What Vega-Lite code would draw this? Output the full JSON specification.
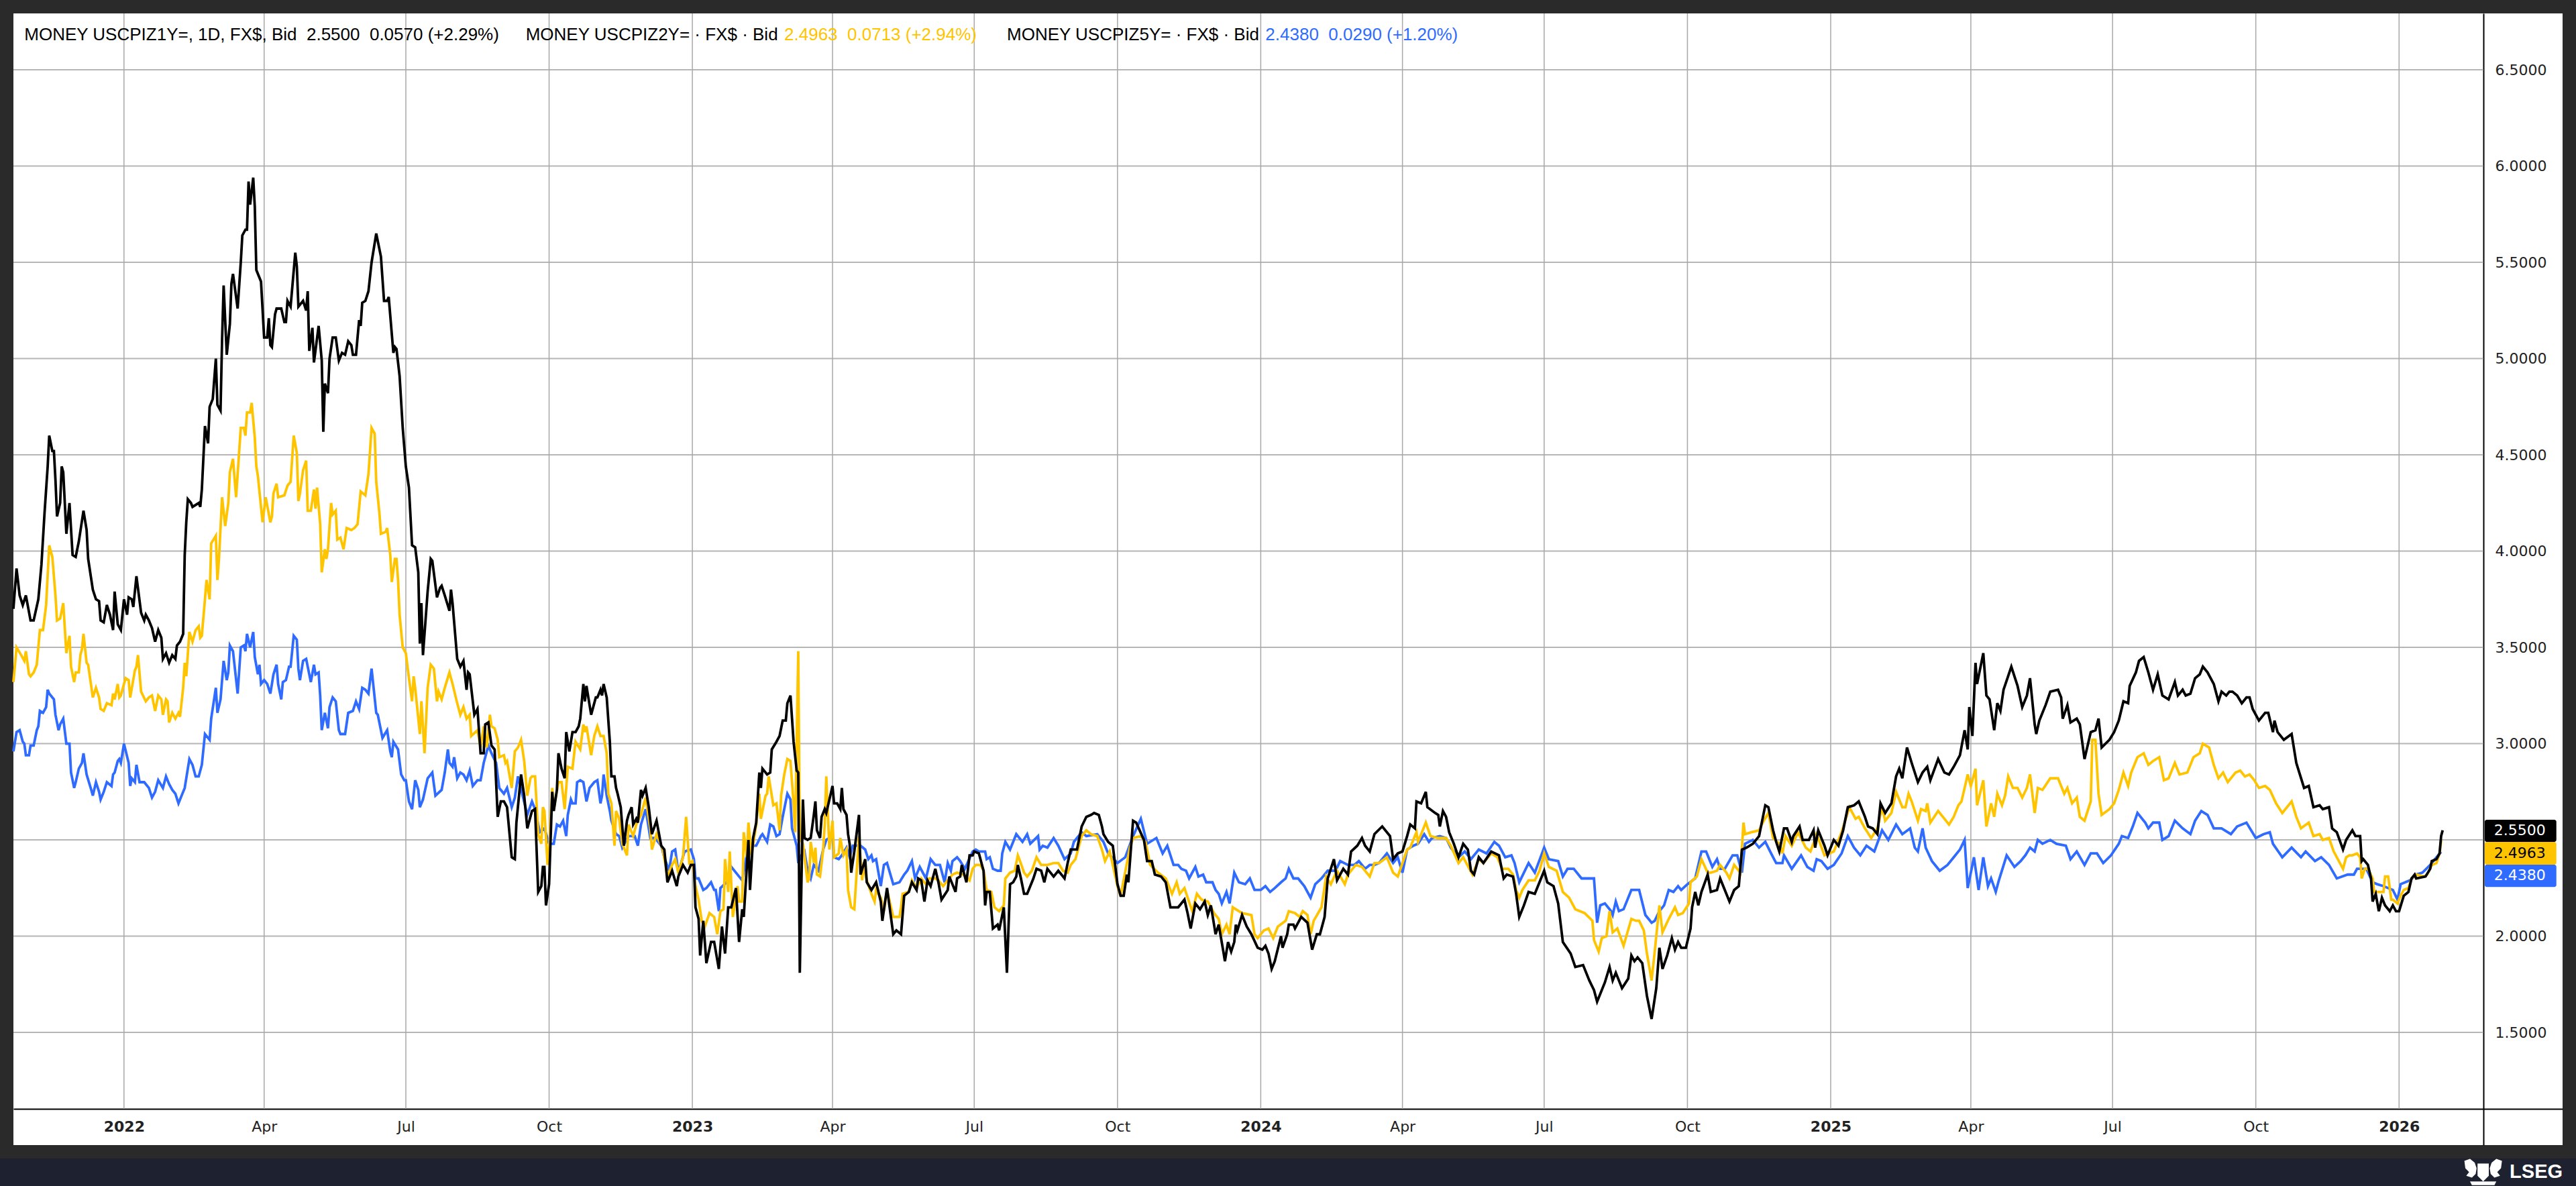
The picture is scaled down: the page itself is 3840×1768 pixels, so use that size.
{
"$schema":"https://vega.github.io/schema/vega-lite/v6.json",
"width":3800,"height":1687,
"autosize":"none",
"padding":{"left":20,"top":20,"right":20,"bottom":61},
"background":"#2a2a2a",
"view":{"fill":"#ffffff","stroke":null},
"datasets":{
"levels":[{"level":1.5},{"level":2},{"level":2.5},{"level":3},{"level":3.5},{"level":4},{"level":4.5},{"level":5},{"level":5.5},{"level":6},{"level":6.5}],
"months":[{"t":"2022-01-01"},{"t":"2022-04-01"},{"t":"2022-07-01"},{"t":"2022-10-01"},{"t":"2023-01-01"},{"t":"2023-04-01"},{"t":"2023-07-01"},{"t":"2023-10-01"},{"t":"2024-01-01"},{"t":"2024-04-01"},{"t":"2024-07-01"},{"t":"2024-10-01"},{"t":"2025-01-01"},{"t":"2025-04-01"},{"t":"2025-07-01"},{"t":"2025-10-01"},{"t":"2026-01-01"}],
"header":[
{"t":"2021-10-29","series":"name","text":"MONEY USCPIZ1Y=, 1D, FX$, Bid \u00a02.5500 \u00a00.0570 (+2.29%)"},
{"t":"2022-09-16","series":"name","text":"MONEY USCPIZ2Y= · FX$ · Bid"},
{"t":"2023-03-01","series":"2Y","text":"2.4963 \u00a00.0713 (+2.94%)"},
{"t":"2023-07-22","series":"name","text":"MONEY USCPIZ5Y= · FX$ · Bid"},
{"t":"2024-01-04","series":"5Y","text":"2.4380 \u00a00.0290 (+1.20%)"}],
"tags":[
{"series":"1Y","label":"2.5500","hi":2.605,"lo":2.49,"mid":2.548},
{"series":"2Y","label":"2.4963","hi":2.49,"lo":2.371,"mid":2.431},
{"series":"5Y","label":"2.4380","hi":2.371,"lo":2.256,"mid":2.314}],
"y5":[{"t":"2021-10-22","v":2.96},{"t":"2021-10-24","v":3.06},{"t":"2021-10-26","v":3.07},{"t":"2021-10-28","v":3.01},{"t":"2021-10-29","v":3.0},{"t":"2021-10-30","v":2.94},{"t":"2021-11-01","v":2.94},{"t":"2021-11-02","v":2.99},{"t":"2021-11-04","v":2.99},{"t":"2021-11-06","v":3.07},{"t":"2021-11-07","v":3.09},{"t":"2021-11-08","v":3.17},{"t":"2021-11-10","v":3.16},{"t":"2021-11-12","v":3.19},{"t":"2021-11-13","v":3.28},{"t":"2021-11-14","v":3.26},{"t":"2021-11-17","v":3.23},{"t":"2021-11-18","v":3.15},{"t":"2021-11-20","v":3.07},{"t":"2021-11-21","v":3.10},{"t":"2021-11-23","v":3.13},{"t":"2021-11-25","v":3.0},{"t":"2021-11-27","v":3.0},{"t":"2021-11-28","v":2.85},{"t":"2021-11-30","v":2.77},{"t":"2021-12-01","v":2.80},{"t":"2021-12-03","v":2.87},{"t":"2021-12-05","v":2.90},{"t":"2021-12-06","v":2.95},{"t":"2021-12-08","v":2.84},{"t":"2021-12-11","v":2.76},{"t":"2021-12-12","v":2.73},{"t":"2021-12-14","v":2.80},{"t":"2021-12-16","v":2.75},{"t":"2021-12-17","v":2.71},{"t":"2021-12-19","v":2.75},{"t":"2021-12-21","v":2.80},{"t":"2021-12-24","v":2.78},{"t":"2021-12-25","v":2.84},{"t":"2021-12-26","v":2.85},{"t":"2021-12-28","v":2.91},{"t":"2021-12-29","v":2.92},{"t":"2021-12-30","v":2.90},{"t":"2022-01-01","v":3.0},{"t":"2022-01-04","v":2.90},{"t":"2022-01-05","v":2.78},{"t":"2022-01-06","v":2.82},{"t":"2022-01-08","v":2.80},{"t":"2022-01-09","v":2.89},{"t":"2022-01-11","v":2.80},{"t":"2022-01-14","v":2.80},{"t":"2022-01-17","v":2.77},{"t":"2022-01-19","v":2.72},{"t":"2022-01-21","v":2.75},{"t":"2022-01-23","v":2.81},{"t":"2022-01-26","v":2.77},{"t":"2022-01-28","v":2.83},{"t":"2022-01-30","v":2.79},{"t":"2022-02-01","v":2.76},{"t":"2022-02-03","v":2.74},{"t":"2022-02-05","v":2.69},{"t":"2022-02-07","v":2.73},{"t":"2022-02-09","v":2.77},{"t":"2022-02-11","v":2.87},{"t":"2022-02-12","v":2.92},{"t":"2022-02-14","v":2.89},{"t":"2022-02-16","v":2.83},{"t":"2022-02-18","v":2.83},{"t":"2022-02-20","v":2.89},{"t":"2022-02-22","v":3.05},{"t":"2022-02-25","v":3.02},{"t":"2022-02-26","v":3.13},{"t":"2022-03-01","v":3.29},{"t":"2022-03-02","v":3.16},{"t":"2022-03-04","v":3.23},{"t":"2022-03-06","v":3.43},{"t":"2022-03-08","v":3.33},{"t":"2022-03-09","v":3.37},{"t":"2022-03-10","v":3.51},{"t":"2022-03-12","v":3.48},{"t":"2022-03-15","v":3.26},{"t":"2022-03-17","v":3.50},{"t":"2022-03-19","v":3.51},{"t":"2022-03-20","v":3.48},{"t":"2022-03-21","v":3.57},{"t":"2022-03-23","v":3.50},{"t":"2022-03-25","v":3.58},{"t":"2022-03-26","v":3.45},{"t":"2022-03-28","v":3.36},{"t":"2022-03-29","v":3.41},{"t":"2022-03-30","v":3.31},{"t":"2022-04-01","v":3.33},{"t":"2022-04-03","v":3.31},{"t":"2022-04-05","v":3.26},{"t":"2022-04-07","v":3.36},{"t":"2022-04-09","v":3.41},{"t":"2022-04-10","v":3.31},{"t":"2022-04-12","v":3.23},{"t":"2022-04-13","v":3.32},{"t":"2022-04-15","v":3.33},{"t":"2022-04-17","v":3.40},{"t":"2022-04-18","v":3.40},{"t":"2022-04-20","v":3.56},{"t":"2022-04-22","v":3.54},{"t":"2022-04-23","v":3.39},{"t":"2022-04-24","v":3.33},{"t":"2022-04-26","v":3.43},{"t":"2022-04-28","v":3.44},{"t":"2022-05-01","v":3.32},{"t":"2022-05-03","v":3.41},{"t":"2022-05-04","v":3.36},{"t":"2022-05-06","v":3.37},{"t":"2022-05-07","v":3.25},{"t":"2022-05-08","v":3.07},{"t":"2022-05-10","v":3.16},{"t":"2022-05-12","v":3.08},{"t":"2022-05-13","v":3.19},{"t":"2022-05-15","v":3.24},{"t":"2022-05-17","v":3.22},{"t":"2022-05-19","v":3.07},{"t":"2022-05-20","v":3.05},{"t":"2022-05-23","v":3.05},{"t":"2022-05-25","v":3.16},{"t":"2022-05-28","v":3.17},{"t":"2022-05-30","v":3.22},{"t":"2022-06-01","v":3.18},{"t":"2022-06-03","v":3.29},{"t":"2022-06-05","v":3.28},{"t":"2022-06-07","v":3.26},{"t":"2022-06-09","v":3.39},{"t":"2022-06-12","v":3.16},{"t":"2022-06-13","v":3.15},{"t":"2022-06-16","v":3.03},{"t":"2022-06-19","v":3.07},{"t":"2022-06-21","v":2.96},{"t":"2022-06-22","v":2.93},{"t":"2022-06-23","v":3.01},{"t":"2022-06-26","v":2.97},{"t":"2022-06-28","v":2.84},{"t":"2022-06-30","v":2.81},{"t":"2022-07-01","v":2.81},{"t":"2022-07-03","v":2.70},{"t":"2022-07-05","v":2.66},{"t":"2022-07-07","v":2.81},{"t":"2022-07-09","v":2.76},{"t":"2022-07-10","v":2.67},{"t":"2022-07-12","v":2.71},{"t":"2022-07-15","v":2.82},{"t":"2022-07-18","v":2.85},{"t":"2022-07-20","v":2.73},{"t":"2022-07-24","v":2.76},{"t":"2022-07-26","v":2.85},{"t":"2022-07-28","v":2.97},{"t":"2022-07-29","v":2.90},{"t":"2022-07-31","v":2.88},{"t":"2022-08-01","v":2.93},{"t":"2022-08-03","v":2.82},{"t":"2022-08-05","v":2.85},{"t":"2022-08-07","v":2.84},{"t":"2022-08-09","v":2.81},{"t":"2022-08-11","v":2.86},{"t":"2022-08-13","v":2.78},{"t":"2022-08-16","v":2.81},{"t":"2022-08-18","v":2.81},{"t":"2022-08-20","v":2.90},{"t":"2022-08-23","v":2.99},{"t":"2022-08-25","v":2.95},{"t":"2022-08-28","v":2.90},{"t":"2022-08-30","v":2.77},{"t":"2022-09-02","v":2.74},{"t":"2022-09-04","v":2.77},{"t":"2022-09-07","v":2.67},{"t":"2022-09-09","v":2.72},{"t":"2022-09-11","v":2.83},{"t":"2022-09-17","v":2.63},{"t":"2022-09-20","v":2.70},{"t":"2022-09-22","v":2.66},{"t":"2022-09-25","v":2.54},{"t":"2022-09-28","v":2.56},{"t":"2022-10-01","v":2.48},{"t":"2022-10-04","v":2.48},{"t":"2022-10-06","v":2.58},{"t":"2022-10-08","v":2.57},{"t":"2022-10-10","v":2.60},{"t":"2022-10-12","v":2.52},{"t":"2022-10-13","v":2.63},{"t":"2022-10-15","v":2.71},{"t":"2022-10-16","v":2.69},{"t":"2022-10-18","v":2.69},{"t":"2022-10-19","v":2.80},{"t":"2022-10-21","v":2.81},{"t":"2022-10-23","v":2.80},{"t":"2022-10-25","v":2.70},{"t":"2022-10-27","v":2.77},{"t":"2022-10-30","v":2.80},{"t":"2022-11-01","v":2.81},{"t":"2022-11-03","v":2.69},{"t":"2022-11-04","v":2.73},{"t":"2022-11-05","v":2.84},{"t":"2022-11-07","v":2.73},{"t":"2022-11-09","v":2.65},{"t":"2022-11-10","v":2.60},{"t":"2022-11-13","v":2.53},{"t":"2022-11-15","v":2.52},{"t":"2022-11-17","v":2.46},{"t":"2022-11-21","v":2.52},{"t":"2022-11-25","v":2.52},{"t":"2022-11-27","v":2.47},{"t":"2022-11-29","v":2.58},{"t":"2022-12-02","v":2.66},{"t":"2022-12-05","v":2.51},{"t":"2022-12-08","v":2.51},{"t":"2022-12-12","v":2.47},{"t":"2022-12-14","v":2.41},{"t":"2022-12-17","v":2.34},{"t":"2022-12-19","v":2.44},{"t":"2022-12-21","v":2.45},{"t":"2022-12-23","v":2.33},{"t":"2022-12-27","v":2.44},{"t":"2022-12-31","v":2.45},{"t":"2023-01-02","v":2.40},{"t":"2023-01-03","v":2.30},{"t":"2023-01-05","v":2.30},{"t":"2023-01-08","v":2.24},{"t":"2023-01-10","v":2.25},{"t":"2023-01-13","v":2.28},{"t":"2023-01-15","v":2.24},{"t":"2023-01-16","v":2.24},{"t":"2023-01-18","v":2.13},{"t":"2023-01-19","v":2.25},{"t":"2023-01-23","v":2.28},{"t":"2023-01-26","v":2.36},{"t":"2023-01-29","v":2.33},{"t":"2023-01-31","v":2.31},{"t":"2023-02-02","v":2.29},{"t":"2023-02-06","v":2.47},{"t":"2023-02-11","v":2.47},{"t":"2023-02-14","v":2.52},{"t":"2023-02-15","v":2.53},{"t":"2023-02-18","v":2.49},{"t":"2023-02-20","v":2.58},{"t":"2023-02-22","v":2.57},{"t":"2023-02-24","v":2.52},{"t":"2023-02-26","v":2.53},{"t":"2023-02-28","v":2.62},{"t":"2023-03-03","v":2.74},{"t":"2023-03-05","v":2.71},{"t":"2023-03-06","v":2.56},{"t":"2023-03-09","v":2.47},{"t":"2023-03-10","v":2.38},{"t":"2023-03-12","v":2.42},{"t":"2023-03-14","v":2.44},{"t":"2023-03-16","v":2.34},{"t":"2023-03-18","v":2.30},{"t":"2023-03-20","v":2.37},{"t":"2023-03-23","v":2.34},{"t":"2023-03-26","v":2.45},{"t":"2023-03-28","v":2.50},{"t":"2023-04-01","v":2.52},{"t":"2023-04-02","v":2.41},{"t":"2023-04-05","v":2.40},{"t":"2023-04-07","v":2.42},{"t":"2023-04-10","v":2.46},{"t":"2023-04-12","v":2.41},{"t":"2023-04-14","v":2.47},{"t":"2023-04-19","v":2.47},{"t":"2023-04-22","v":2.45},{"t":"2023-04-24","v":2.40},{"t":"2023-04-26","v":2.42},{"t":"2023-04-27","v":2.39},{"t":"2023-04-29","v":2.40},{"t":"2023-05-02","v":2.26},{"t":"2023-05-04","v":2.37},{"t":"2023-05-06","v":2.38},{"t":"2023-05-10","v":2.27},{"t":"2023-05-14","v":2.28},{"t":"2023-05-17","v":2.32},{"t":"2023-05-19","v":2.34},{"t":"2023-05-22","v":2.39},{"t":"2023-05-24","v":2.30},{"t":"2023-05-27","v":2.36},{"t":"2023-05-31","v":2.30},{"t":"2023-06-03","v":2.40},{"t":"2023-06-06","v":2.37},{"t":"2023-06-09","v":2.37},{"t":"2023-06-12","v":2.28},{"t":"2023-06-14","v":2.38},{"t":"2023-06-16","v":2.34},{"t":"2023-06-17","v":2.39},{"t":"2023-06-20","v":2.41},{"t":"2023-06-22","v":2.39},{"t":"2023-06-25","v":2.35},{"t":"2023-06-30","v":2.44},{"t":"2023-07-02","v":2.45},{"t":"2023-07-04","v":2.44},{"t":"2023-07-08","v":2.44},{"t":"2023-07-09","v":2.40},{"t":"2023-07-11","v":2.41},{"t":"2023-07-13","v":2.35},{"t":"2023-07-16","v":2.34},{"t":"2023-07-18","v":2.34},{"t":"2023-07-19","v":2.43},{"t":"2023-07-21","v":2.49},{"t":"2023-07-24","v":2.45},{"t":"2023-07-28","v":2.53},{"t":"2023-08-01","v":2.49},{"t":"2023-08-04","v":2.53},{"t":"2023-08-06","v":2.48},{"t":"2023-08-11","v":2.52},{"t":"2023-08-12","v":2.45},{"t":"2023-08-14","v":2.47},{"t":"2023-08-17","v":2.46},{"t":"2023-08-21","v":2.51},{"t":"2023-08-24","v":2.47},{"t":"2023-08-28","v":2.40},{"t":"2023-09-01","v":2.43},{"t":"2023-09-03","v":2.49},{"t":"2023-09-08","v":2.54},{"t":"2023-09-11","v":2.52},{"t":"2023-09-18","v":2.53},{"t":"2023-09-22","v":2.49},{"t":"2023-09-25","v":2.43},{"t":"2023-10-01","v":2.38},{"t":"2023-10-06","v":2.41},{"t":"2023-10-11","v":2.52},{"t":"2023-10-16","v":2.61},{"t":"2023-10-20","v":2.48},{"t":"2023-10-26","v":2.51},{"t":"2023-10-30","v":2.43},{"t":"2023-11-02","v":2.47},{"t":"2023-11-06","v":2.37},{"t":"2023-11-09","v":2.37},{"t":"2023-11-11","v":2.35},{"t":"2023-11-14","v":2.34},{"t":"2023-11-16","v":2.30},{"t":"2023-11-20","v":2.36},{"t":"2023-11-22","v":2.31},{"t":"2023-11-25","v":2.32},{"t":"2023-11-27","v":2.28},{"t":"2023-12-01","v":2.28},{"t":"2023-12-03","v":2.24},{"t":"2023-12-05","v":2.22},{"t":"2023-12-07","v":2.17},{"t":"2023-12-10","v":2.23},{"t":"2023-12-12","v":2.17},{"t":"2023-12-15","v":2.33},{"t":"2023-12-18","v":2.28},{"t":"2023-12-22","v":2.27},{"t":"2023-12-25","v":2.30},{"t":"2023-12-28","v":2.24},{"t":"2024-01-01","v":2.24},{"t":"2024-01-04","v":2.26},{"t":"2024-01-07","v":2.23},{"t":"2024-01-10","v":2.25},{"t":"2024-01-14","v":2.28},{"t":"2024-01-17","v":2.30},{"t":"2024-01-19","v":2.35},{"t":"2024-01-22","v":2.30},{"t":"2024-01-25","v":2.30},{"t":"2024-01-29","v":2.26},{"t":"2024-02-02","v":2.20},{"t":"2024-02-05","v":2.27},{"t":"2024-02-09","v":2.30},{"t":"2024-02-13","v":2.34},{"t":"2024-02-16","v":2.34},{"t":"2024-02-18","v":2.34},{"t":"2024-02-21","v":2.39},{"t":"2024-02-26","v":2.37},{"t":"2024-03-01","v":2.37},{"t":"2024-03-04","v":2.39},{"t":"2024-03-08","v":2.35},{"t":"2024-03-11","v":2.37},{"t":"2024-03-14","v":2.37},{"t":"2024-03-17","v":2.38},{"t":"2024-03-22","v":2.43},{"t":"2024-03-26","v":2.38},{"t":"2024-03-29","v":2.41},{"t":"2024-04-01","v":2.33},{"t":"2024-04-04","v":2.45},{"t":"2024-04-08","v":2.47},{"t":"2024-04-11","v":2.48},{"t":"2024-04-15","v":2.53},{"t":"2024-04-18","v":2.49},{"t":"2024-04-20","v":2.51},{"t":"2024-04-25","v":2.52},{"t":"2024-04-29","v":2.51},{"t":"2024-05-02","v":2.46},{"t":"2024-05-07","v":2.41},{"t":"2024-05-11","v":2.44},{"t":"2024-05-15","v":2.40},{"t":"2024-05-20","v":2.45},{"t":"2024-05-25","v":2.43},{"t":"2024-05-30","v":2.49},{"t":"2024-06-02","v":2.47},{"t":"2024-06-06","v":2.41},{"t":"2024-06-10","v":2.42},{"t":"2024-06-12","v":2.38},{"t":"2024-06-15","v":2.28},{"t":"2024-06-18","v":2.33},{"t":"2024-06-21","v":2.38},{"t":"2024-06-25","v":2.33},{"t":"2024-07-01","v":2.46},{"t":"2024-07-04","v":2.40},{"t":"2024-07-10","v":2.39},{"t":"2024-07-13","v":2.31},{"t":"2024-07-16","v":2.35},{"t":"2024-07-20","v":2.35},{"t":"2024-07-25","v":2.30},{"t":"2024-08-02","v":2.30},{"t":"2024-08-04","v":2.07},{"t":"2024-08-06","v":2.16},{"t":"2024-08-09","v":2.17},{"t":"2024-08-13","v":2.13},{"t":"2024-08-14","v":2.11},{"t":"2024-08-16","v":2.18},{"t":"2024-08-18","v":2.13},{"t":"2024-08-21","v":2.14},{"t":"2024-08-26","v":2.24},{"t":"2024-08-31","v":2.24},{"t":"2024-09-04","v":2.11},{"t":"2024-09-08","v":2.07},{"t":"2024-09-10","v":2.08},{"t":"2024-09-13","v":2.13},{"t":"2024-09-16","v":2.16},{"t":"2024-09-19","v":2.24},{"t":"2024-09-22","v":2.23},{"t":"2024-09-25","v":2.26},{"t":"2024-09-27","v":2.24},{"t":"2024-10-01","v":2.27},{"t":"2024-10-06","v":2.30},{"t":"2024-10-10","v":2.44},{"t":"2024-10-13","v":2.44},{"t":"2024-10-17","v":2.36},{"t":"2024-10-20","v":2.40},{"t":"2024-10-22","v":2.35},{"t":"2024-10-25","v":2.35},{"t":"2024-10-30","v":2.42},{"t":"2024-11-02","v":2.42},{"t":"2024-11-05","v":2.33},{"t":"2024-11-07","v":2.48},{"t":"2024-11-12","v":2.50},{"t":"2024-11-16","v":2.46},{"t":"2024-11-20","v":2.49},{"t":"2024-11-25","v":2.41},{"t":"2024-11-27","v":2.38},{"t":"2024-12-01","v":2.38},{"t":"2024-12-02","v":2.42},{"t":"2024-12-07","v":2.35},{"t":"2024-12-13","v":2.42},{"t":"2024-12-17","v":2.36},{"t":"2024-12-21","v":2.34},{"t":"2024-12-23","v":2.40},{"t":"2024-12-26","v":2.39},{"t":"2024-12-30","v":2.35},{"t":"2025-01-03","v":2.37},{"t":"2025-01-08","v":2.43},{"t":"2025-01-12","v":2.52},{"t":"2025-01-16","v":2.46},{"t":"2025-01-20","v":2.42},{"t":"2025-01-24","v":2.47},{"t":"2025-01-29","v":2.44},{"t":"2025-02-03","v":2.55},{"t":"2025-02-07","v":2.50},{"t":"2025-02-12","v":2.58},{"t":"2025-02-16","v":2.53},{"t":"2025-02-21","v":2.56},{"t":"2025-02-24","v":2.46},{"t":"2025-02-26","v":2.44},{"t":"2025-03-01","v":2.56},{"t":"2025-03-03","v":2.46},{"t":"2025-03-07","v":2.39},{"t":"2025-03-12","v":2.34},{"t":"2025-03-17","v":2.37},{"t":"2025-03-21","v":2.41},{"t":"2025-03-25","v":2.45},{"t":"2025-03-28","v":2.50},{"t":"2025-03-30","v":2.25},{"t":"2025-04-03","v":2.41},{"t":"2025-04-06","v":2.24},{"t":"2025-04-09","v":2.41},{"t":"2025-04-12","v":2.26},{"t":"2025-04-14","v":2.30},{"t":"2025-04-17","v":2.23},{"t":"2025-04-19","v":2.29},{"t":"2025-04-24","v":2.42},{"t":"2025-04-29","v":2.36},{"t":"2025-05-03","v":2.39},{"t":"2025-05-06","v":2.42},{"t":"2025-05-09","v":2.46},{"t":"2025-05-12","v":2.44},{"t":"2025-05-14","v":2.50},{"t":"2025-05-17","v":2.48},{"t":"2025-05-22","v":2.50},{"t":"2025-05-26","v":2.48},{"t":"2025-06-01","v":2.47},{"t":"2025-06-04","v":2.40},{"t":"2025-06-08","v":2.44},{"t":"2025-06-13","v":2.37},{"t":"2025-06-17","v":2.43},{"t":"2025-06-21","v":2.43},{"t":"2025-06-25","v":2.38},{"t":"2025-06-30","v":2.42},{"t":"2025-07-05","v":2.48},{"t":"2025-07-07","v":2.52},{"t":"2025-07-11","v":2.51},{"t":"2025-07-14","v":2.57},{"t":"2025-07-17","v":2.64},{"t":"2025-07-22","v":2.59},{"t":"2025-07-24","v":2.56},{"t":"2025-07-27","v":2.59},{"t":"2025-07-31","v":2.59},{"t":"2025-08-02","v":2.50},{"t":"2025-08-06","v":2.52},{"t":"2025-08-10","v":2.60},{"t":"2025-08-15","v":2.56},{"t":"2025-08-20","v":2.53},{"t":"2025-08-23","v":2.60},{"t":"2025-08-27","v":2.65},{"t":"2025-08-31","v":2.63},{"t":"2025-09-04","v":2.56},{"t":"2025-09-09","v":2.56},{"t":"2025-09-15","v":2.53},{"t":"2025-09-19","v":2.57},{"t":"2025-09-25","v":2.59},{"t":"2025-10-01","v":2.51},{"t":"2025-10-06","v":2.53},{"t":"2025-10-10","v":2.54},{"t":"2025-10-12","v":2.48},{"t":"2025-10-18","v":2.41},{"t":"2025-10-24","v":2.46},{"t":"2025-10-30","v":2.41},{"t":"2025-11-02","v":2.44},{"t":"2025-11-08","v":2.39},{"t":"2025-11-12","v":2.41},{"t":"2025-11-17","v":2.37},{"t":"2025-11-22","v":2.30},{"t":"2025-11-29","v":2.32},{"t":"2025-12-03","v":2.32},{"t":"2025-12-05","v":2.35},{"t":"2025-12-11","v":2.35},{"t":"2025-12-15","v":2.28},{"t":"2025-12-18","v":2.27},{"t":"2025-12-22","v":2.26},{"t":"2025-12-28","v":2.24},{"t":"2025-12-31","v":2.19},{"t":"2026-01-02","v":2.27},{"t":"2026-01-08","v":2.29},{"t":"2026-01-12","v":2.32},{"t":"2026-01-16","v":2.33},{"t":"2026-01-21","v":2.37},{"t":"2026-01-25","v":2.41},{"t":"2026-01-28","v":2.438}],
"y2":[{"t":"2021-10-22","v":3.32},{"t":"2021-10-24","v":3.50},{"t":"2021-10-27","v":3.46},{"t":"2021-10-29","v":3.43},{"t":"2021-10-30","v":3.48},{"t":"2021-11-01","v":3.36},{"t":"2021-11-02","v":3.35},{"t":"2021-11-04","v":3.37},{"t":"2021-11-06","v":3.41},{"t":"2021-11-08","v":3.59},{"t":"2021-11-10","v":3.59},{"t":"2021-11-12","v":3.72},{"t":"2021-11-14","v":4.03},{"t":"2021-11-16","v":3.97},{"t":"2021-11-18","v":3.77},{"t":"2021-11-19","v":3.64},{"t":"2021-11-21","v":3.65},{"t":"2021-11-23","v":3.73},{"t":"2021-11-25","v":3.47},{"t":"2021-11-27","v":3.56},{"t":"2021-11-28","v":3.40},{"t":"2021-11-30","v":3.32},{"t":"2021-12-01","v":3.37},{"t":"2021-12-03","v":3.37},{"t":"2021-12-04","v":3.46},{"t":"2021-12-05","v":3.49},{"t":"2021-12-06","v":3.57},{"t":"2021-12-08","v":3.42},{"t":"2021-12-09","v":3.41},{"t":"2021-12-12","v":3.24},{"t":"2021-12-14","v":3.29},{"t":"2021-12-16","v":3.24},{"t":"2021-12-17","v":3.18},{"t":"2021-12-19","v":3.17},{"t":"2021-12-21","v":3.21},{"t":"2021-12-24","v":3.20},{"t":"2021-12-25","v":3.26},{"t":"2021-12-26","v":3.23},{"t":"2021-12-28","v":3.31},{"t":"2021-12-29","v":3.24},{"t":"2021-12-30","v":3.25},{"t":"2022-01-02","v":3.34},{"t":"2022-01-04","v":3.33},{"t":"2022-01-05","v":3.24},{"t":"2022-01-08","v":3.38},{"t":"2022-01-09","v":3.40},{"t":"2022-01-10","v":3.46},{"t":"2022-01-12","v":3.27},{"t":"2022-01-15","v":3.22},{"t":"2022-01-17","v":3.24},{"t":"2022-01-19","v":3.25},{"t":"2022-01-21","v":3.17},{"t":"2022-01-23","v":3.25},{"t":"2022-01-25","v":3.23},{"t":"2022-01-26","v":3.15},{"t":"2022-01-28","v":3.23},{"t":"2022-01-29","v":3.22},{"t":"2022-01-30","v":3.11},{"t":"2022-02-01","v":3.16},{"t":"2022-02-03","v":3.13},{"t":"2022-02-05","v":3.16},{"t":"2022-02-06","v":3.14},{"t":"2022-02-08","v":3.29},{"t":"2022-02-09","v":3.42},{"t":"2022-02-10","v":3.35},{"t":"2022-02-12","v":3.58},{"t":"2022-02-14","v":3.53},{"t":"2022-02-16","v":3.59},{"t":"2022-02-18","v":3.61},{"t":"2022-02-19","v":3.55},{"t":"2022-02-20","v":3.56},{"t":"2022-02-22","v":3.75},{"t":"2022-02-23","v":3.85},{"t":"2022-02-25","v":3.75},{"t":"2022-02-26","v":4.04},{"t":"2022-03-01","v":4.08},{"t":"2022-03-02","v":3.85},{"t":"2022-03-03","v":3.96},{"t":"2022-03-05","v":4.28},{"t":"2022-03-07","v":4.13},{"t":"2022-03-09","v":4.25},{"t":"2022-03-10","v":4.41},{"t":"2022-03-12","v":4.48},{"t":"2022-03-14","v":4.28},{"t":"2022-03-16","v":4.52},{"t":"2022-03-17","v":4.64},{"t":"2022-03-19","v":4.64},{"t":"2022-03-20","v":4.60},{"t":"2022-03-21","v":4.72},{"t":"2022-03-23","v":4.72},{"t":"2022-03-24","v":4.77},{"t":"2022-03-26","v":4.59},{"t":"2022-03-27","v":4.44},{"t":"2022-03-28","v":4.39},{"t":"2022-03-31","v":4.15},{"t":"2022-04-02","v":4.28},{"t":"2022-04-05","v":4.15},{"t":"2022-04-06","v":4.18},{"t":"2022-04-07","v":4.30},{"t":"2022-04-09","v":4.35},{"t":"2022-04-10","v":4.28},{"t":"2022-04-14","v":4.29},{"t":"2022-04-16","v":4.34},{"t":"2022-04-18","v":4.36},{"t":"2022-04-20","v":4.60},{"t":"2022-04-22","v":4.51},{"t":"2022-04-23","v":4.26},{"t":"2022-04-24","v":4.30},{"t":"2022-04-26","v":4.42},{"t":"2022-04-28","v":4.47},{"t":"2022-04-29","v":4.21},{"t":"2022-05-01","v":4.21},{"t":"2022-05-03","v":4.32},{"t":"2022-05-04","v":4.22},{"t":"2022-05-05","v":4.33},{"t":"2022-05-07","v":4.14},{"t":"2022-05-08","v":3.89},{"t":"2022-05-10","v":4.01},{"t":"2022-05-11","v":3.96},{"t":"2022-05-12","v":4.01},{"t":"2022-05-14","v":4.25},{"t":"2022-05-15","v":4.19},{"t":"2022-05-17","v":4.21},{"t":"2022-05-18","v":4.06},{"t":"2022-05-20","v":4.07},{"t":"2022-05-22","v":4.01},{"t":"2022-05-24","v":4.12},{"t":"2022-05-27","v":4.11},{"t":"2022-05-29","v":4.12},{"t":"2022-05-31","v":4.14},{"t":"2022-06-02","v":4.31},{"t":"2022-06-05","v":4.29},{"t":"2022-06-07","v":4.40},{"t":"2022-06-09","v":4.64},{"t":"2022-06-11","v":4.61},{"t":"2022-06-12","v":4.36},{"t":"2022-06-14","v":4.20},{"t":"2022-06-15","v":4.09},{"t":"2022-06-18","v":4.10},{"t":"2022-06-19","v":4.12},{"t":"2022-06-21","v":3.98},{"t":"2022-06-22","v":3.84},{"t":"2022-06-24","v":3.96},{"t":"2022-06-25","v":3.96},{"t":"2022-06-26","v":3.85},{"t":"2022-06-27","v":3.67},{"t":"2022-06-29","v":3.50},{"t":"2022-07-01","v":3.47},{"t":"2022-07-03","v":3.34},{"t":"2022-07-05","v":3.22},{"t":"2022-07-06","v":3.35},{"t":"2022-07-07","v":3.29},{"t":"2022-07-10","v":3.05},{"t":"2022-07-11","v":3.22},{"t":"2022-07-13","v":2.95},{"t":"2022-07-15","v":3.29},{"t":"2022-07-17","v":3.41},{"t":"2022-07-19","v":3.39},{"t":"2022-07-21","v":3.22},{"t":"2022-07-22","v":3.27},{"t":"2022-07-24","v":3.23},{"t":"2022-07-26","v":3.29},{"t":"2022-07-29","v":3.37},{"t":"2022-07-31","v":3.31},{"t":"2022-08-03","v":3.21},{"t":"2022-08-05","v":3.15},{"t":"2022-08-07","v":3.19},{"t":"2022-08-09","v":3.13},{"t":"2022-08-11","v":3.15},{"t":"2022-08-12","v":3.04},{"t":"2022-08-16","v":3.07},{"t":"2022-08-18","v":2.98},{"t":"2022-08-20","v":3.09},{"t":"2022-08-22","v":2.98},{"t":"2022-08-24","v":3.15},{"t":"2022-08-25","v":3.09},{"t":"2022-08-27","v":3.08},{"t":"2022-08-29","v":3.02},{"t":"2022-08-30","v":2.93},{"t":"2022-09-02","v":2.94},{"t":"2022-09-03","v":2.90},{"t":"2022-09-04","v":2.91},{"t":"2022-09-07","v":2.77},{"t":"2022-09-09","v":2.96},{"t":"2022-09-11","v":2.98},{"t":"2022-09-13","v":3.02},{"t":"2022-09-15","v":2.91},{"t":"2022-09-17","v":2.73},{"t":"2022-09-19","v":2.82},{"t":"2022-09-20","v":2.83},{"t":"2022-09-22","v":2.83},{"t":"2022-09-24","v":2.53},{"t":"2022-09-26","v":2.48},{"t":"2022-09-27","v":2.67},{"t":"2022-09-28","v":2.65},{"t":"2022-09-30","v":2.37},{"t":"2022-10-01","v":2.45},{"t":"2022-10-03","v":2.77},{"t":"2022-10-04","v":2.66},{"t":"2022-10-07","v":2.80},{"t":"2022-10-09","v":2.80},{"t":"2022-10-11","v":2.66},{"t":"2022-10-13","v":2.88},{"t":"2022-10-16","v":2.87},{"t":"2022-10-18","v":3.01},{"t":"2022-10-21","v":2.97},{"t":"2022-10-23","v":3.10},{"t":"2022-10-24","v":3.06},{"t":"2022-10-25","v":3.09},{"t":"2022-10-28","v":2.94},{"t":"2022-10-30","v":3.04},{"t":"2022-11-01","v":3.09},{"t":"2022-11-03","v":3.04},{"t":"2022-11-05","v":3.04},{"t":"2022-11-07","v":2.95},{"t":"2022-11-08","v":2.74},{"t":"2022-11-10","v":2.69},{"t":"2022-11-12","v":2.47},{"t":"2022-11-13","v":2.65},{"t":"2022-11-15","v":2.61},{"t":"2022-11-17","v":2.48},{"t":"2022-11-20","v":2.42},{"t":"2022-11-21","v":2.58},{"t":"2022-11-24","v":2.52},{"t":"2022-11-26","v":2.58},{"t":"2022-11-29","v":2.63},{"t":"2022-12-02","v":2.72},{"t":"2022-12-05","v":2.56},{"t":"2022-12-06","v":2.45},{"t":"2022-12-09","v":2.53},{"t":"2022-12-13","v":2.45},{"t":"2022-12-16","v":2.31},{"t":"2022-12-19","v":2.37},{"t":"2022-12-21","v":2.40},{"t":"2022-12-23","v":2.33},{"t":"2022-12-26","v":2.41},{"t":"2022-12-28","v":2.62},{"t":"2022-12-30","v":2.38},{"t":"2023-01-01","v":2.39},{"t":"2023-01-03","v":2.26},{"t":"2023-01-05","v":2.19},{"t":"2023-01-07","v":2.08},{"t":"2023-01-09","v":2.05},{"t":"2023-01-12","v":2.12},{"t":"2023-01-15","v":2.10},{"t":"2023-01-17","v":2.01},{"t":"2023-01-19","v":2.13},{"t":"2023-01-21","v":2.14},{"t":"2023-01-22","v":2.40},{"t":"2023-01-24","v":2.23},{"t":"2023-01-25","v":2.44},{"t":"2023-01-27","v":2.10},{"t":"2023-01-30","v":2.26},{"t":"2023-01-31","v":2.18},{"t":"2023-02-02","v":2.18},{"t":"2023-02-03","v":2.54},{"t":"2023-02-05","v":2.41},{"t":"2023-02-06","v":2.59},{"t":"2023-02-08","v":2.42},{"t":"2023-02-11","v":2.58},{"t":"2023-02-13","v":2.74},{"t":"2023-02-14","v":2.61},{"t":"2023-02-17","v":2.73},{"t":"2023-02-18","v":2.74},{"t":"2023-02-19","v":2.83},{"t":"2023-02-22","v":2.68},{"t":"2023-02-24","v":2.69},{"t":"2023-02-26","v":2.55},{"t":"2023-02-27","v":2.73},{"t":"2023-03-01","v":2.84},{"t":"2023-03-03","v":2.92},{"t":"2023-03-05","v":2.91},{"t":"2023-03-07","v":2.69},{"t":"2023-03-08","v":2.54},{"t":"2023-03-10","v":3.48},{"t":"2023-03-11","v":2.51},{"t":"2023-03-13","v":2.48},{"t":"2023-03-16","v":2.28},{"t":"2023-03-17","v":2.30},{"t":"2023-03-18","v":2.49},{"t":"2023-03-20","v":2.38},{"t":"2023-03-21","v":2.46},{"t":"2023-03-22","v":2.32},{"t":"2023-03-24","v":2.31},{"t":"2023-03-26","v":2.45},{"t":"2023-03-27","v":2.58},{"t":"2023-03-28","v":2.83},{"t":"2023-03-30","v":2.45},{"t":"2023-04-01","v":2.60},{"t":"2023-04-02","v":2.41},{"t":"2023-04-05","v":2.43},{"t":"2023-04-06","v":2.51},{"t":"2023-04-08","v":2.42},{"t":"2023-04-10","v":2.45},{"t":"2023-04-11","v":2.24},{"t":"2023-04-13","v":2.15},{"t":"2023-04-15","v":2.14},{"t":"2023-04-18","v":2.52},{"t":"2023-04-20","v":2.29},{"t":"2023-04-21","v":2.37},{"t":"2023-04-23","v":2.29},{"t":"2023-04-26","v":2.22},{"t":"2023-04-28","v":2.18},{"t":"2023-04-29","v":2.24},{"t":"2023-05-02","v":2.20},{"t":"2023-05-04","v":2.13},{"t":"2023-05-06","v":2.24},{"t":"2023-05-08","v":2.17},{"t":"2023-05-10","v":2.10},{"t":"2023-05-14","v":2.10},{"t":"2023-05-15","v":2.15},{"t":"2023-05-16","v":2.22},{"t":"2023-05-20","v":2.23},{"t":"2023-05-22","v":2.29},{"t":"2023-05-25","v":2.25},{"t":"2023-05-28","v":2.30},{"t":"2023-05-31","v":2.27},{"t":"2023-06-02","v":2.30},{"t":"2023-06-06","v":2.30},{"t":"2023-06-08","v":2.29},{"t":"2023-06-11","v":2.26},{"t":"2023-06-14","v":2.29},{"t":"2023-06-17","v":2.32},{"t":"2023-06-20","v":2.33},{"t":"2023-06-24","v":2.32},{"t":"2023-06-28","v":2.29},{"t":"2023-06-30","v":2.35},{"t":"2023-07-02","v":2.37},{"t":"2023-07-05","v":2.37},{"t":"2023-07-07","v":2.34},{"t":"2023-07-09","v":2.24},{"t":"2023-07-12","v":2.23},{"t":"2023-07-14","v":2.15},{"t":"2023-07-17","v":2.13},{"t":"2023-07-20","v":2.16},{"t":"2023-07-21","v":2.30},{"t":"2023-07-24","v":2.33},{"t":"2023-07-27","v":2.34},{"t":"2023-07-29","v":2.42},{"t":"2023-07-30","v":2.40},{"t":"2023-08-02","v":2.33},{"t":"2023-08-04","v":2.31},{"t":"2023-08-07","v":2.34},{"t":"2023-08-10","v":2.41},{"t":"2023-08-13","v":2.37},{"t":"2023-08-17","v":2.37},{"t":"2023-08-21","v":2.38},{"t":"2023-08-24","v":2.38},{"t":"2023-08-27","v":2.34},{"t":"2023-08-30","v":2.33},{"t":"2023-09-01","v":2.37},{"t":"2023-09-04","v":2.40},{"t":"2023-09-08","v":2.52},{"t":"2023-09-11","v":2.55},{"t":"2023-09-14","v":2.53},{"t":"2023-09-18","v":2.52},{"t":"2023-09-21","v":2.45},{"t":"2023-09-23","v":2.39},{"t":"2023-09-26","v":2.44},{"t":"2023-09-28","v":2.37},{"t":"2023-10-01","v":2.26},{"t":"2023-10-03","v":2.21},{"t":"2023-10-09","v":2.46},{"t":"2023-10-11","v":2.51},{"t":"2023-10-16","v":2.52},{"t":"2023-10-19","v":2.49},{"t":"2023-10-22","v":2.37},{"t":"2023-10-27","v":2.33},{"t":"2023-11-01","v":2.30},{"t":"2023-11-05","v":2.22},{"t":"2023-11-08","v":2.28},{"t":"2023-11-10","v":2.22},{"t":"2023-11-13","v":2.25},{"t":"2023-11-18","v":2.13},{"t":"2023-11-21","v":2.22},{"t":"2023-11-24","v":2.19},{"t":"2023-11-28","v":2.18},{"t":"2023-12-02","v":2.12},{"t":"2023-12-05","v":2.09},{"t":"2023-12-07","v":2.01},{"t":"2023-12-10","v":2.06},{"t":"2023-12-12","v":2.01},{"t":"2023-12-14","v":2.15},{"t":"2023-12-18","v":2.13},{"t":"2023-12-20","v":2.12},{"t":"2023-12-26","v":2.11},{"t":"2023-12-28","v":2.01},{"t":"2023-12-30","v":1.99},{"t":"2024-01-03","v":2.03},{"t":"2024-01-06","v":2.04},{"t":"2024-01-09","v":1.99},{"t":"2024-01-12","v":2.05},{"t":"2024-01-17","v":2.08},{"t":"2024-01-19","v":2.13},{"t":"2024-01-23","v":2.12},{"t":"2024-01-26","v":2.10},{"t":"2024-01-28","v":2.13},{"t":"2024-01-31","v":2.11},{"t":"2024-02-02","v":2.01},{"t":"2024-02-04","v":2.08},{"t":"2024-02-09","v":2.15},{"t":"2024-02-12","v":2.31},{"t":"2024-02-15","v":2.27},{"t":"2024-02-19","v":2.34},{"t":"2024-02-24","v":2.27},{"t":"2024-02-26","v":2.32},{"t":"2024-03-02","v":2.37},{"t":"2024-03-06","v":2.36},{"t":"2024-03-11","v":2.31},{"t":"2024-03-14","v":2.38},{"t":"2024-03-17","v":2.38},{"t":"2024-03-22","v":2.41},{"t":"2024-03-26","v":2.33},{"t":"2024-03-29","v":2.31},{"t":"2024-04-01","v":2.38},{"t":"2024-04-04","v":2.45},{"t":"2024-04-06","v":2.46},{"t":"2024-04-10","v":2.54},{"t":"2024-04-11","v":2.49},{"t":"2024-04-16","v":2.59},{"t":"2024-04-19","v":2.52},{"t":"2024-04-24","v":2.51},{"t":"2024-04-29","v":2.51},{"t":"2024-05-02","v":2.47},{"t":"2024-05-07","v":2.38},{"t":"2024-05-10","v":2.41},{"t":"2024-05-16","v":2.32},{"t":"2024-05-20","v":2.40},{"t":"2024-05-23","v":2.38},{"t":"2024-05-28","v":2.43},{"t":"2024-06-01","v":2.41},{"t":"2024-06-04","v":2.35},{"t":"2024-06-08","v":2.35},{"t":"2024-06-11","v":2.32},{"t":"2024-06-13","v":2.24},{"t":"2024-06-15","v":2.20},{"t":"2024-06-17","v":2.24},{"t":"2024-06-21","v":2.29},{"t":"2024-06-25","v":2.29},{"t":"2024-06-28","v":2.34},{"t":"2024-07-01","v":2.43},{"t":"2024-07-04","v":2.36},{"t":"2024-07-09","v":2.34},{"t":"2024-07-13","v":2.23},{"t":"2024-07-17","v":2.20},{"t":"2024-07-21","v":2.14},{"t":"2024-07-27","v":2.12},{"t":"2024-08-01","v":2.08},{"t":"2024-08-02","v":1.98},{"t":"2024-08-05","v":1.92},{"t":"2024-08-07","v":1.99},{"t":"2024-08-10","v":2.0},{"t":"2024-08-12","v":2.13},{"t":"2024-08-14","v":2.02},{"t":"2024-08-17","v":2.04},{"t":"2024-08-21","v":1.95},{"t":"2024-08-26","v":2.09},{"t":"2024-08-29","v":2.08},{"t":"2024-08-31","v":2.08},{"t":"2024-09-03","v":2.03},{"t":"2024-09-05","v":1.91},{"t":"2024-09-08","v":1.77},{"t":"2024-09-10","v":1.92},{"t":"2024-09-13","v":2.16},{"t":"2024-09-15","v":2.02},{"t":"2024-09-19","v":2.09},{"t":"2024-09-23","v":2.15},{"t":"2024-09-25","v":2.11},{"t":"2024-09-28","v":2.12},{"t":"2024-10-02","v":2.17},{"t":"2024-10-03","v":2.28},{"t":"2024-10-07","v":2.31},{"t":"2024-10-10","v":2.40},{"t":"2024-10-14","v":2.33},{"t":"2024-10-16","v":2.33},{"t":"2024-10-20","v":2.34},{"t":"2024-10-22","v":2.37},{"t":"2024-10-26","v":2.33},{"t":"2024-10-28","v":2.30},{"t":"2024-10-31","v":2.37},{"t":"2024-11-04","v":2.33},{"t":"2024-11-06","v":2.59},{"t":"2024-11-07","v":2.53},{"t":"2024-11-11","v":2.54},{"t":"2024-11-16","v":2.55},{"t":"2024-11-19","v":2.60},{"t":"2024-11-22","v":2.64},{"t":"2024-11-25","v":2.51},{"t":"2024-11-29","v":2.48},{"t":"2024-12-01","v":2.43},{"t":"2024-12-03","v":2.52},{"t":"2024-12-07","v":2.47},{"t":"2024-12-11","v":2.54},{"t":"2024-12-16","v":2.46},{"t":"2024-12-19","v":2.44},{"t":"2024-12-23","v":2.53},{"t":"2024-12-28","v":2.42},{"t":"2025-01-03","v":2.44},{"t":"2025-01-08","v":2.54},{"t":"2025-01-13","v":2.67},{"t":"2025-01-17","v":2.61},{"t":"2025-01-19","v":2.62},{"t":"2025-01-23","v":2.56},{"t":"2025-01-27","v":2.51},{"t":"2025-01-31","v":2.56},{"t":"2025-02-03","v":2.67},{"t":"2025-02-05","v":2.60},{"t":"2025-02-09","v":2.64},{"t":"2025-02-12","v":2.75},{"t":"2025-02-16","v":2.67},{"t":"2025-02-18","v":2.67},{"t":"2025-02-20","v":2.74},{"t":"2025-02-22","v":2.70},{"t":"2025-02-26","v":2.60},{"t":"2025-02-28","v":2.66},{"t":"2025-03-03","v":2.65},{"t":"2025-03-04","v":2.69},{"t":"2025-03-06","v":2.59},{"t":"2025-03-11","v":2.65},{"t":"2025-03-14","v":2.62},{"t":"2025-03-18","v":2.58},{"t":"2025-03-21","v":2.62},{"t":"2025-03-24","v":2.68},{"t":"2025-03-26","v":2.70},{"t":"2025-03-28","v":2.77},{"t":"2025-03-30","v":2.84},{"t":"2025-04-01","v":2.78},{"t":"2025-04-04","v":2.87},{"t":"2025-04-05","v":2.68},{"t":"2025-04-09","v":2.81},{"t":"2025-04-11","v":2.57},{"t":"2025-04-14","v":2.69},{"t":"2025-04-16","v":2.62},{"t":"2025-04-18","v":2.74},{"t":"2025-04-21","v":2.68},{"t":"2025-04-23","v":2.73},{"t":"2025-04-25","v":2.83},{"t":"2025-04-28","v":2.77},{"t":"2025-05-01","v":2.77},{"t":"2025-05-04","v":2.72},{"t":"2025-05-07","v":2.77},{"t":"2025-05-09","v":2.84},{"t":"2025-05-12","v":2.64},{"t":"2025-05-14","v":2.77},{"t":"2025-05-17","v":2.76},{"t":"2025-05-22","v":2.82},{"t":"2025-05-27","v":2.82},{"t":"2025-05-29","v":2.78},{"t":"2025-05-31","v":2.74},{"t":"2025-06-02","v":2.77},{"t":"2025-06-05","v":2.69},{"t":"2025-06-08","v":2.72},{"t":"2025-06-10","v":2.62},{"t":"2025-06-13","v":2.60},{"t":"2025-06-17","v":2.70},{"t":"2025-06-18","v":3.02},{"t":"2025-06-20","v":3.02},{"t":"2025-06-22","v":2.74},{"t":"2025-06-24","v":2.63},{"t":"2025-06-29","v":2.66},{"t":"2025-07-02","v":2.69},{"t":"2025-07-05","v":2.76},{"t":"2025-07-08","v":2.85},{"t":"2025-07-11","v":2.78},{"t":"2025-07-13","v":2.85},{"t":"2025-07-17","v":2.93},{"t":"2025-07-21","v":2.95},{"t":"2025-07-24","v":2.89},{"t":"2025-07-27","v":2.91},{"t":"2025-07-31","v":2.93},{"t":"2025-08-03","v":2.81},{"t":"2025-08-06","v":2.82},{"t":"2025-08-10","v":2.90},{"t":"2025-08-13","v":2.84},{"t":"2025-08-18","v":2.85},{"t":"2025-08-22","v":2.93},{"t":"2025-08-26","v":2.95},{"t":"2025-08-28","v":3.0},{"t":"2025-09-01","v":2.98},{"t":"2025-09-04","v":2.89},{"t":"2025-09-07","v":2.82},{"t":"2025-09-10","v":2.85},{"t":"2025-09-13","v":2.80},{"t":"2025-09-18","v":2.85},{"t":"2025-09-21","v":2.86},{"t":"2025-09-24","v":2.83},{"t":"2025-09-27","v":2.84},{"t":"2025-09-30","v":2.81},{"t":"2025-10-03","v":2.77},{"t":"2025-10-07","v":2.78},{"t":"2025-10-10","v":2.76},{"t":"2025-10-14","v":2.69},{"t":"2025-10-18","v":2.64},{"t":"2025-10-24","v":2.70},{"t":"2025-10-27","v":2.62},{"t":"2025-10-30","v":2.56},{"t":"2025-11-04","v":2.59},{"t":"2025-11-07","v":2.52},{"t":"2025-11-11","v":2.53},{"t":"2025-11-13","v":2.50},{"t":"2025-11-17","v":2.51},{"t":"2025-11-20","v":2.44},{"t":"2025-11-26","v":2.35},{"t":"2025-11-28","v":2.41},{"t":"2025-11-30","v":2.42},{"t":"2025-12-02","v":2.42},{"t":"2025-12-05","v":2.43},{"t":"2025-12-07","v":2.41},{"t":"2025-12-08","v":2.30},{"t":"2025-12-10","v":2.35},{"t":"2025-12-12","v":2.35},{"t":"2025-12-15","v":2.30},{"t":"2025-12-16","v":2.23},{"t":"2025-12-19","v":2.23},{"t":"2025-12-22","v":2.23},{"t":"2025-12-23","v":2.31},{"t":"2025-12-25","v":2.31},{"t":"2025-12-27","v":2.19},{"t":"2025-12-28","v":2.19},{"t":"2025-12-31","v":2.17},{"t":"2026-01-02","v":2.21},{"t":"2026-01-04","v":2.24},{"t":"2026-01-07","v":2.25},{"t":"2026-01-09","v":2.30},{"t":"2026-01-12","v":2.32},{"t":"2026-01-17","v":2.31},{"t":"2026-01-19","v":2.32},{"t":"2026-01-22","v":2.37},{"t":"2026-01-25","v":2.38},{"t":"2026-01-27","v":2.43},{"t":"2026-01-28","v":2.4963}],
"y1":[{"t":"2021-10-22","v":3.70},{"t":"2021-10-24","v":3.91},{"t":"2021-10-26","v":3.77},{"t":"2021-10-28","v":3.72},{"t":"2021-10-30","v":3.77},{"t":"2021-11-02","v":3.64},{"t":"2021-11-04","v":3.64},{"t":"2021-11-07","v":3.75},{"t":"2021-11-09","v":3.93},{"t":"2021-11-11","v":4.20},{"t":"2021-11-13","v":4.44},{"t":"2021-11-14","v":4.60},{"t":"2021-11-16","v":4.52},{"t":"2021-11-17","v":4.52},{"t":"2021-11-18","v":4.37},{"t":"2021-11-19","v":4.18},{"t":"2021-11-21","v":4.25},{"t":"2021-11-22","v":4.44},{"t":"2021-11-23","v":4.41},{"t":"2021-11-25","v":4.09},{"t":"2021-11-27","v":4.25},{"t":"2021-11-29","v":3.98},{"t":"2021-12-01","v":3.97},{"t":"2021-12-03","v":4.05},{"t":"2021-12-06","v":4.21},{"t":"2021-12-08","v":4.11},{"t":"2021-12-09","v":3.96},{"t":"2021-12-12","v":3.80},{"t":"2021-12-14","v":3.75},{"t":"2021-12-16","v":3.74},{"t":"2021-12-17","v":3.64},{"t":"2021-12-19","v":3.63},{"t":"2021-12-21","v":3.72},{"t":"2021-12-23","v":3.67},{"t":"2021-12-25","v":3.59},{"t":"2021-12-26","v":3.79},{"t":"2021-12-28","v":3.62},{"t":"2021-12-30","v":3.59},{"t":"2022-01-01","v":3.75},{"t":"2022-01-03","v":3.67},{"t":"2022-01-04","v":3.76},{"t":"2022-01-06","v":3.75},{"t":"2022-01-07","v":3.71},{"t":"2022-01-09","v":3.87},{"t":"2022-01-12","v":3.68},{"t":"2022-01-14","v":3.64},{"t":"2022-01-15","v":3.67},{"t":"2022-01-17","v":3.64},{"t":"2022-01-19","v":3.60},{"t":"2022-01-21","v":3.53},{"t":"2022-01-23","v":3.59},{"t":"2022-01-25","v":3.55},{"t":"2022-01-26","v":3.44},{"t":"2022-01-28","v":3.47},{"t":"2022-01-30","v":3.42},{"t":"2022-02-01","v":3.46},{"t":"2022-02-03","v":3.44},{"t":"2022-02-04","v":3.51},{"t":"2022-02-06","v":3.53},{"t":"2022-02-08","v":3.57},{"t":"2022-02-09","v":3.98},{"t":"2022-02-10","v":4.15},{"t":"2022-02-11","v":4.27},{"t":"2022-02-13","v":4.25},{"t":"2022-02-14","v":4.23},{"t":"2022-02-18","v":4.25},{"t":"2022-02-19","v":4.23},{"t":"2022-02-20","v":4.32},{"t":"2022-02-22","v":4.65},{"t":"2022-02-24","v":4.56},{"t":"2022-02-25","v":4.75},{"t":"2022-02-27","v":4.79},{"t":"2022-03-01","v":5.0},{"t":"2022-03-02","v":4.76},{"t":"2022-03-04","v":4.73},{"t":"2022-03-05","v":5.10},{"t":"2022-03-06","v":5.38},{"t":"2022-03-08","v":5.02},{"t":"2022-03-10","v":5.18},{"t":"2022-03-11","v":5.39},{"t":"2022-03-12","v":5.44},{"t":"2022-03-15","v":5.26},{"t":"2022-03-17","v":5.50},{"t":"2022-03-18","v":5.64},{"t":"2022-03-20","v":5.67},{"t":"2022-03-21","v":5.67},{"t":"2022-03-22","v":5.92},{"t":"2022-03-23","v":5.80},{"t":"2022-03-25","v":5.94},{"t":"2022-03-26","v":5.79},{"t":"2022-03-27","v":5.46},{"t":"2022-03-30","v":5.40},{"t":"2022-04-01","v":5.11},{"t":"2022-04-03","v":5.11},{"t":"2022-04-04","v":5.21},{"t":"2022-04-05","v":5.07},{"t":"2022-04-06","v":5.06},{"t":"2022-04-08","v":5.23},{"t":"2022-04-09","v":5.26},{"t":"2022-04-12","v":5.26},{"t":"2022-04-14","v":5.19},{"t":"2022-04-15","v":5.19},{"t":"2022-04-16","v":5.30},{"t":"2022-04-18","v":5.27},{"t":"2022-04-21","v":5.55},{"t":"2022-04-22","v":5.48},{"t":"2022-04-23","v":5.27},{"t":"2022-04-26","v":5.30},{"t":"2022-04-28","v":5.25},{"t":"2022-04-29","v":5.35},{"t":"2022-04-30","v":5.04},{"t":"2022-05-02","v":5.16},{"t":"2022-05-03","v":4.98},{"t":"2022-05-06","v":5.17},{"t":"2022-05-08","v":4.99},{"t":"2022-05-09","v":4.62},{"t":"2022-05-10","v":4.87},{"t":"2022-05-12","v":4.82},{"t":"2022-05-13","v":5.0},{"t":"2022-05-15","v":5.11},{"t":"2022-05-17","v":5.11},{"t":"2022-05-19","v":4.99},{"t":"2022-05-21","v":5.03},{"t":"2022-05-23","v":5.02},{"t":"2022-05-25","v":5.09},{"t":"2022-05-27","v":5.07},{"t":"2022-05-28","v":5.02},{"t":"2022-05-30","v":5.02},{"t":"2022-06-01","v":5.20},{"t":"2022-06-02","v":5.17},{"t":"2022-06-03","v":5.29},{"t":"2022-06-05","v":5.30},{"t":"2022-06-07","v":5.35},{"t":"2022-06-09","v":5.50},{"t":"2022-06-12","v":5.65},{"t":"2022-06-15","v":5.53},{"t":"2022-06-17","v":5.30},{"t":"2022-06-19","v":5.30},{"t":"2022-06-20","v":5.32},{"t":"2022-06-23","v":5.03},{"t":"2022-06-24","v":5.06},{"t":"2022-06-25","v":5.05},{"t":"2022-06-27","v":4.91},{"t":"2022-06-29","v":4.64},{"t":"2022-07-01","v":4.44},{"t":"2022-07-03","v":4.33},{"t":"2022-07-05","v":4.03},{"t":"2022-07-07","v":4.02},{"t":"2022-07-09","v":3.89},{"t":"2022-07-10","v":3.52},{"t":"2022-07-11","v":3.73},{"t":"2022-07-12","v":3.46},{"t":"2022-07-15","v":3.79},{"t":"2022-07-17","v":3.96},{"t":"2022-07-18","v":3.95},{"t":"2022-07-21","v":3.76},{"t":"2022-07-23","v":3.81},{"t":"2022-07-24","v":3.82},{"t":"2022-07-26","v":3.77},{"t":"2022-07-29","v":3.69},{"t":"2022-07-30","v":3.80},{"t":"2022-07-31","v":3.73},{"t":"2022-08-03","v":3.44},{"t":"2022-08-05","v":3.40},{"t":"2022-08-07","v":3.43},{"t":"2022-08-09","v":3.28},{"t":"2022-08-10","v":3.37},{"t":"2022-08-11","v":3.36},{"t":"2022-08-14","v":3.15},{"t":"2022-08-16","v":3.18},{"t":"2022-08-18","v":2.95},{"t":"2022-08-20","v":2.95},{"t":"2022-08-21","v":3.10},{"t":"2022-08-23","v":3.11},{"t":"2022-08-25","v":2.99},{"t":"2022-08-27","v":2.97},{"t":"2022-08-29","v":2.62},{"t":"2022-08-31","v":2.70},{"t":"2022-09-02","v":2.70},{"t":"2022-09-04","v":2.67},{"t":"2022-09-07","v":2.41},{"t":"2022-09-09","v":2.40},{"t":"2022-09-10","v":2.59},{"t":"2022-09-13","v":2.84},{"t":"2022-09-15","v":2.73},{"t":"2022-09-17","v":2.56},{"t":"2022-09-20","v":2.65},{"t":"2022-09-22","v":2.66},{"t":"2022-09-24","v":2.23},{"t":"2022-09-26","v":2.26},{"t":"2022-09-27","v":2.36},{"t":"2022-09-28","v":2.36},{"t":"2022-09-29","v":2.16},{"t":"2022-10-01","v":2.27},{"t":"2022-10-03","v":2.75},{"t":"2022-10-04","v":2.65},{"t":"2022-10-06","v":2.76},{"t":"2022-10-07","v":2.95},{"t":"2022-10-09","v":2.87},{"t":"2022-10-11","v":2.82},{"t":"2022-10-12","v":3.06},{"t":"2022-10-14","v":2.96},{"t":"2022-10-16","v":3.06},{"t":"2022-10-18","v":3.06},{"t":"2022-10-20","v":3.09},{"t":"2022-10-21","v":3.13},{"t":"2022-10-23","v":3.31},{"t":"2022-10-24","v":3.22},{"t":"2022-10-25","v":3.30},{"t":"2022-10-28","v":3.15},{"t":"2022-10-31","v":3.24},{"t":"2022-11-01","v":3.24},{"t":"2022-11-03","v":3.28},{"t":"2022-11-04","v":3.25},{"t":"2022-11-05","v":3.31},{"t":"2022-11-07","v":3.24},{"t":"2022-11-09","v":3.01},{"t":"2022-11-10","v":2.83},{"t":"2022-11-12","v":2.83},{"t":"2022-11-13","v":2.77},{"t":"2022-11-14","v":2.74},{"t":"2022-11-16","v":2.67},{"t":"2022-11-18","v":2.47},{"t":"2022-11-20","v":2.60},{"t":"2022-11-21","v":2.63},{"t":"2022-11-23","v":2.67},{"t":"2022-11-24","v":2.58},{"t":"2022-11-26","v":2.61},{"t":"2022-11-27","v":2.59},{"t":"2022-11-29","v":2.76},{"t":"2022-11-30","v":2.73},{"t":"2022-12-02","v":2.77},{"t":"2022-12-04","v":2.67},{"t":"2022-12-06","v":2.53},{"t":"2022-12-09","v":2.60},{"t":"2022-12-12","v":2.47},{"t":"2022-12-14","v":2.45},{"t":"2022-12-16","v":2.28},{"t":"2022-12-19","v":2.34},{"t":"2022-12-22","v":2.26},{"t":"2022-12-23","v":2.31},{"t":"2022-12-26","v":2.37},{"t":"2022-12-29","v":2.33},{"t":"2022-12-31","v":2.37},{"t":"2023-01-02","v":2.37},{"t":"2023-01-03","v":2.15},{"t":"2023-01-05","v":2.09},{"t":"2023-01-06","v":1.90},{"t":"2023-01-08","v":2.08},{"t":"2023-01-10","v":1.86},{"t":"2023-01-13","v":1.97},{"t":"2023-01-15","v":1.97},{"t":"2023-01-18","v":1.83},{"t":"2023-01-20","v":2.05},{"t":"2023-01-22","v":1.91},{"t":"2023-01-24","v":2.15},{"t":"2023-01-26","v":2.15},{"t":"2023-01-29","v":2.25},{"t":"2023-01-31","v":1.97},{"t":"2023-02-02","v":2.14},{"t":"2023-02-03","v":2.10},{"t":"2023-02-06","v":2.50},{"t":"2023-02-07","v":2.24},{"t":"2023-02-09","v":2.51},{"t":"2023-02-11","v":2.59},{"t":"2023-02-13","v":2.85},{"t":"2023-02-14","v":2.77},{"t":"2023-02-15","v":2.87},{"t":"2023-02-18","v":2.84},{"t":"2023-02-20","v":2.85},{"t":"2023-02-21","v":2.97},{"t":"2023-02-24","v":3.01},{"t":"2023-02-26","v":3.04},{"t":"2023-02-27","v":3.08},{"t":"2023-02-28","v":3.12},{"t":"2023-03-02","v":3.12},{"t":"2023-03-03","v":3.21},{"t":"2023-03-05","v":3.25},{"t":"2023-03-07","v":3.01},{"t":"2023-03-09","v":2.86},{"t":"2023-03-10","v":2.85},{"t":"2023-03-11","v":1.81},{"t":"2023-03-13","v":2.71},{"t":"2023-03-14","v":2.51},{"t":"2023-03-16","v":2.50},{"t":"2023-03-18","v":2.51},{"t":"2023-03-20","v":2.63},{"t":"2023-03-21","v":2.70},{"t":"2023-03-22","v":2.55},{"t":"2023-03-24","v":2.51},{"t":"2023-03-25","v":2.62},{"t":"2023-03-27","v":2.66},{"t":"2023-03-28","v":2.64},{"t":"2023-03-30","v":2.71},{"t":"2023-04-01","v":2.78},{"t":"2023-04-02","v":2.69},{"t":"2023-04-04","v":2.69},{"t":"2023-04-06","v":2.66},{"t":"2023-04-07","v":2.77},{"t":"2023-04-08","v":2.66},{"t":"2023-04-10","v":2.63},{"t":"2023-04-11","v":2.53},{"t":"2023-04-12","v":2.48},{"t":"2023-04-13","v":2.33},{"t":"2023-04-15","v":2.44},{"t":"2023-04-18","v":2.63},{"t":"2023-04-19","v":2.32},{"t":"2023-04-22","v":2.40},{"t":"2023-04-23","v":2.28},{"t":"2023-04-26","v":2.24},{"t":"2023-04-29","v":2.28},{"t":"2023-05-02","v":2.18},{"t":"2023-05-03","v":2.08},{"t":"2023-05-06","v":2.25},{"t":"2023-05-07","v":2.19},{"t":"2023-05-10","v":2.01},{"t":"2023-05-12","v":2.03},{"t":"2023-05-15","v":2.01},{"t":"2023-05-17","v":2.21},{"t":"2023-05-20","v":2.23},{"t":"2023-05-22","v":2.28},{"t":"2023-05-25","v":2.24},{"t":"2023-05-26","v":2.30},{"t":"2023-05-28","v":2.29},{"t":"2023-05-30","v":2.18},{"t":"2023-06-01","v":2.29},{"t":"2023-06-03","v":2.26},{"t":"2023-06-06","v":2.35},{"t":"2023-06-08","v":2.28},{"t":"2023-06-10","v":2.19},{"t":"2023-06-14","v":2.24},{"t":"2023-06-15","v":2.31},{"t":"2023-06-19","v":2.23},{"t":"2023-06-20","v":2.30},{"t":"2023-06-22","v":2.31},{"t":"2023-06-23","v":2.37},{"t":"2023-06-26","v":2.28},{"t":"2023-06-28","v":2.42},{"t":"2023-06-30","v":2.42},{"t":"2023-07-01","v":2.44},{"t":"2023-07-04","v":2.43},{"t":"2023-07-06","v":2.37},{"t":"2023-07-07","v":2.34},{"t":"2023-07-08","v":2.16},{"t":"2023-07-09","v":2.23},{"t":"2023-07-11","v":2.23},{"t":"2023-07-13","v":2.04},{"t":"2023-07-16","v":2.06},{"t":"2023-07-17","v":2.03},{"t":"2023-07-20","v":2.15},{"t":"2023-07-22","v":1.81},{"t":"2023-07-24","v":2.27},{"t":"2023-07-26","v":2.28},{"t":"2023-07-28","v":2.31},{"t":"2023-07-29","v":2.37},{"t":"2023-07-31","v":2.30},{"t":"2023-08-02","v":2.22},{"t":"2023-08-04","v":2.22},{"t":"2023-08-08","v":2.30},{"t":"2023-08-10","v":2.35},{"t":"2023-08-13","v":2.34},{"t":"2023-08-15","v":2.28},{"t":"2023-08-17","v":2.35},{"t":"2023-08-21","v":2.31},{"t":"2023-08-24","v":2.34},{"t":"2023-08-28","v":2.30},{"t":"2023-08-30","v":2.38},{"t":"2023-09-01","v":2.45},{"t":"2023-09-05","v":2.45},{"t":"2023-09-08","v":2.57},{"t":"2023-09-11","v":2.62},{"t":"2023-09-14","v":2.63},{"t":"2023-09-16","v":2.64},{"t":"2023-09-19","v":2.63},{"t":"2023-09-21","v":2.57},{"t":"2023-09-22","v":2.53},{"t":"2023-09-25","v":2.49},{"t":"2023-09-28","v":2.47},{"t":"2023-10-01","v":2.27},{"t":"2023-10-03","v":2.21},{"t":"2023-10-05","v":2.21},{"t":"2023-10-07","v":2.32},{"t":"2023-10-08","v":2.28},{"t":"2023-10-11","v":2.60},{"t":"2023-10-13","v":2.59},{"t":"2023-10-18","v":2.50},{"t":"2023-10-20","v":2.39},{"t":"2023-10-23","v":2.39},{"t":"2023-10-25","v":2.32},{"t":"2023-10-29","v":2.31},{"t":"2023-11-01","v":2.28},{"t":"2023-11-04","v":2.15},{"t":"2023-11-07","v":2.15},{"t":"2023-11-09","v":2.15},{"t":"2023-11-13","v":2.19},{"t":"2023-11-15","v":2.12},{"t":"2023-11-17","v":2.04},{"t":"2023-11-20","v":2.17},{"t":"2023-11-23","v":2.14},{"t":"2023-11-26","v":2.18},{"t":"2023-11-28","v":2.11},{"t":"2023-11-30","v":2.16},{"t":"2023-12-03","v":2.01},{"t":"2023-12-05","v":2.06},{"t":"2023-12-08","v":1.92},{"t":"2023-12-09","v":1.87},{"t":"2023-12-11","v":1.97},{"t":"2023-12-13","v":1.92},{"t":"2023-12-15","v":1.97},{"t":"2023-12-16","v":2.06},{"t":"2023-12-17","v":2.03},{"t":"2023-12-20","v":2.11},{"t":"2023-12-23","v":2.05},{"t":"2023-12-26","v":2.01},{"t":"2023-12-30","v":1.94},{"t":"2024-01-02","v":1.93},{"t":"2024-01-04","v":1.95},{"t":"2024-01-06","v":1.91},{"t":"2024-01-08","v":1.83},{"t":"2024-01-10","v":1.87},{"t":"2024-01-14","v":2.0},{"t":"2024-01-15","v":1.94},{"t":"2024-01-18","v":2.01},{"t":"2024-01-19","v":2.06},{"t":"2024-01-22","v":2.06},{"t":"2024-01-23","v":2.04},{"t":"2024-01-27","v":2.10},{"t":"2024-01-31","v":2.07},{"t":"2024-02-03","v":1.93},{"t":"2024-02-06","v":2.01},{"t":"2024-02-08","v":2.01},{"t":"2024-02-11","v":2.10},{"t":"2024-02-13","v":2.30},{"t":"2024-02-17","v":2.40},{"t":"2024-02-19","v":2.29},{"t":"2024-02-23","v":2.35},{"t":"2024-02-26","v":2.32},{"t":"2024-02-28","v":2.44},{"t":"2024-03-03","v":2.47},{"t":"2024-03-06","v":2.51},{"t":"2024-03-08","v":2.47},{"t":"2024-03-11","v":2.44},{"t":"2024-03-14","v":2.53},{"t":"2024-03-19","v":2.57},{"t":"2024-03-24","v":2.52},{"t":"2024-03-26","v":2.40},{"t":"2024-03-29","v":2.43},{"t":"2024-04-01","v":2.44},{"t":"2024-04-04","v":2.52},{"t":"2024-04-06","v":2.58},{"t":"2024-04-09","v":2.56},{"t":"2024-04-10","v":2.70},{"t":"2024-04-13","v":2.69},{"t":"2024-04-16","v":2.75},{"t":"2024-04-17","v":2.67},{"t":"2024-04-22","v":2.64},{"t":"2024-04-24","v":2.63},{"t":"2024-04-25","v":2.57},{"t":"2024-04-27","v":2.65},{"t":"2024-04-29","v":2.62},{"t":"2024-05-01","v":2.54},{"t":"2024-05-04","v":2.48},{"t":"2024-05-07","v":2.41},{"t":"2024-05-10","v":2.48},{"t":"2024-05-13","v":2.45},{"t":"2024-05-15","v":2.34},{"t":"2024-05-17","v":2.32},{"t":"2024-05-20","v":2.41},{"t":"2024-05-23","v":2.38},{"t":"2024-05-28","v":2.44},{"t":"2024-06-02","v":2.42},{"t":"2024-06-05","v":2.30},{"t":"2024-06-07","v":2.32},{"t":"2024-06-11","v":2.31},{"t":"2024-06-13","v":2.22},{"t":"2024-06-15","v":2.10},{"t":"2024-06-18","v":2.16},{"t":"2024-06-21","v":2.23},{"t":"2024-06-25","v":2.22},{"t":"2024-07-01","v":2.34},{"t":"2024-07-03","v":2.28},{"t":"2024-07-07","v":2.26},{"t":"2024-07-10","v":2.17},{"t":"2024-07-13","v":1.97},{"t":"2024-07-18","v":1.91},{"t":"2024-07-21","v":1.84},{"t":"2024-07-26","v":1.85},{"t":"2024-07-30","v":1.77},{"t":"2024-08-02","v":1.72},{"t":"2024-08-04","v":1.66},{"t":"2024-08-09","v":1.76},{"t":"2024-08-12","v":1.84},{"t":"2024-08-14","v":1.77},{"t":"2024-08-16","v":1.81},{"t":"2024-08-20","v":1.73},{"t":"2024-08-24","v":1.78},{"t":"2024-08-26","v":1.90},{"t":"2024-08-28","v":1.87},{"t":"2024-08-30","v":1.89},{"t":"2024-09-02","v":1.86},{"t":"2024-09-05","v":1.69},{"t":"2024-09-08","v":1.57},{"t":"2024-09-11","v":1.73},{"t":"2024-09-13","v":1.94},{"t":"2024-09-15","v":1.83},{"t":"2024-09-18","v":1.90},{"t":"2024-09-21","v":1.99},{"t":"2024-09-23","v":1.93},{"t":"2024-09-25","v":1.97},{"t":"2024-09-27","v":1.94},{"t":"2024-09-30","v":1.94},{"t":"2024-10-03","v":2.04},{"t":"2024-10-04","v":2.15},{"t":"2024-10-06","v":2.23},{"t":"2024-10-08","v":2.16},{"t":"2024-10-10","v":2.23},{"t":"2024-10-14","v":2.32},{"t":"2024-10-16","v":2.23},{"t":"2024-10-20","v":2.24},{"t":"2024-10-22","v":2.30},{"t":"2024-10-24","v":2.26},{"t":"2024-10-28","v":2.18},{"t":"2024-10-31","v":2.24},{"t":"2024-11-03","v":2.26},{"t":"2024-11-05","v":2.45},{"t":"2024-11-08","v":2.46},{"t":"2024-11-12","v":2.48},{"t":"2024-11-16","v":2.52},{"t":"2024-11-20","v":2.68},{"t":"2024-11-22","v":2.67},{"t":"2024-11-25","v":2.55},{"t":"2024-11-27","v":2.49},{"t":"2024-11-29","v":2.44},{"t":"2024-12-02","v":2.56},{"t":"2024-12-04","v":2.56},{"t":"2024-12-07","v":2.49},{"t":"2024-12-08","v":2.52},{"t":"2024-12-12","v":2.57},{"t":"2024-12-14","v":2.50},{"t":"2024-12-18","v":2.50},{"t":"2024-12-21","v":2.55},{"t":"2024-12-22","v":2.46},{"t":"2024-12-24","v":2.55},{"t":"2024-12-28","v":2.47},{"t":"2024-12-30","v":2.42},{"t":"2025-01-03","v":2.50},{"t":"2025-01-06","v":2.47},{"t":"2025-01-09","v":2.55},{"t":"2025-01-12","v":2.67},{"t":"2025-01-16","v":2.68},{"t":"2025-01-19","v":2.70},{"t":"2025-01-23","v":2.62},{"t":"2025-01-25","v":2.57},{"t":"2025-01-28","v":2.56},{"t":"2025-01-31","v":2.53},{"t":"2025-02-02","v":2.69},{"t":"2025-02-05","v":2.64},{"t":"2025-02-09","v":2.69},{"t":"2025-02-12","v":2.83},{"t":"2025-02-14","v":2.87},{"t":"2025-02-16","v":2.82},{"t":"2025-02-19","v":2.98},{"t":"2025-02-22","v":2.90},{"t":"2025-02-26","v":2.80},{"t":"2025-03-01","v":2.85},{"t":"2025-03-04","v":2.88},{"t":"2025-03-06","v":2.81},{"t":"2025-03-11","v":2.92},{"t":"2025-03-15","v":2.85},{"t":"2025-03-18","v":2.84},{"t":"2025-03-21","v":2.88},{"t":"2025-03-25","v":2.94},{"t":"2025-03-28","v":3.07},{"t":"2025-03-30","v":2.97},{"t":"2025-03-31","v":3.19},{"t":"2025-04-02","v":3.04},{"t":"2025-04-04","v":3.42},{"t":"2025-04-05","v":3.31},{"t":"2025-04-09","v":3.47},{"t":"2025-04-11","v":3.25},{"t":"2025-04-13","v":3.23},{"t":"2025-04-16","v":3.07},{"t":"2025-04-18","v":3.21},{"t":"2025-04-20","v":3.17},{"t":"2025-04-22","v":3.28},{"t":"2025-04-27","v":3.40},{"t":"2025-05-01","v":3.30},{"t":"2025-05-04","v":3.19},{"t":"2025-05-07","v":3.25},{"t":"2025-05-09","v":3.34},{"t":"2025-05-12","v":3.10},{"t":"2025-05-13","v":3.05},{"t":"2025-05-15","v":3.12},{"t":"2025-05-19","v":3.20},{"t":"2025-05-22","v":3.27},{"t":"2025-05-27","v":3.28},{"t":"2025-05-29","v":3.24},{"t":"2025-05-30","v":3.13},{"t":"2025-06-02","v":3.20},{"t":"2025-06-04","v":3.11},{"t":"2025-06-08","v":3.13},{"t":"2025-06-10","v":3.10},{"t":"2025-06-13","v":2.92},{"t":"2025-06-17","v":3.06},{"t":"2025-06-20","v":3.07},{"t":"2025-06-22","v":3.13},{"t":"2025-06-24","v":2.98},{"t":"2025-06-29","v":3.02},{"t":"2025-07-02","v":3.06},{"t":"2025-07-05","v":3.12},{"t":"2025-07-08","v":3.22},{"t":"2025-07-11","v":3.21},{"t":"2025-07-12","v":3.30},{"t":"2025-07-16","v":3.37},{"t":"2025-07-18","v":3.43},{"t":"2025-07-21","v":3.45},{"t":"2025-07-24","v":3.37},{"t":"2025-07-27","v":3.28},{"t":"2025-07-30","v":3.36},{"t":"2025-08-02","v":3.25},{"t":"2025-08-06","v":3.23},{"t":"2025-08-10","v":3.32},{"t":"2025-08-12","v":3.25},{"t":"2025-08-15","v":3.28},{"t":"2025-08-17","v":3.25},{"t":"2025-08-20","v":3.26},{"t":"2025-08-23","v":3.34},{"t":"2025-08-26","v":3.36},{"t":"2025-08-28","v":3.40},{"t":"2025-08-31","v":3.37},{"t":"2025-09-04","v":3.31},{"t":"2025-09-07","v":3.22},{"t":"2025-09-09","v":3.27},{"t":"2025-09-12","v":3.25},{"t":"2025-09-14","v":3.27},{"t":"2025-09-16","v":3.27},{"t":"2025-09-19","v":3.25},{"t":"2025-09-22","v":3.21},{"t":"2025-09-25","v":3.24},{"t":"2025-09-27","v":3.24},{"t":"2025-09-29","v":3.18},{"t":"2025-10-03","v":3.12},{"t":"2025-10-07","v":3.16},{"t":"2025-10-09","v":3.16},{"t":"2025-10-12","v":3.06},{"t":"2025-10-13","v":3.12},{"t":"2025-10-15","v":3.06},{"t":"2025-10-19","v":3.02},{"t":"2025-10-24","v":3.05},{"t":"2025-10-27","v":2.90},{"t":"2025-11-01","v":2.77},{"t":"2025-11-04","v":2.78},{"t":"2025-11-07","v":2.67},{"t":"2025-11-11","v":2.68},{"t":"2025-11-13","v":2.66},{"t":"2025-11-17","v":2.67},{"t":"2025-11-19","v":2.56},{"t":"2025-11-22","v":2.54},{"t":"2025-11-26","v":2.45},{"t":"2025-11-28","v":2.50},{"t":"2025-12-02","v":2.55},{"t":"2025-12-04","v":2.52},{"t":"2025-12-07","v":2.52},{"t":"2025-12-08","v":2.39},{"t":"2025-12-09","v":2.40},{"t":"2025-12-12","v":2.37},{"t":"2025-12-14","v":2.30},{"t":"2025-12-15","v":2.18},{"t":"2025-12-17","v":2.22},{"t":"2025-12-19","v":2.13},{"t":"2025-12-21","v":2.20},{"t":"2025-12-23","v":2.16},{"t":"2025-12-26","v":2.13},{"t":"2025-12-28","v":2.16},{"t":"2025-12-30","v":2.13},{"t":"2026-01-01","v":2.13},{"t":"2026-01-04","v":2.21},{"t":"2026-01-07","v":2.23},{"t":"2026-01-09","v":2.30},{"t":"2026-01-11","v":2.32},{"t":"2026-01-12","v":2.30},{"t":"2026-01-18","v":2.31},{"t":"2026-01-21","v":2.35},{"t":"2026-01-22","v":2.39},{"t":"2026-01-25","v":2.40},{"t":"2026-01-27","v":2.43},{"t":"2026-01-28","v":2.52},{"t":"2026-01-29","v":2.55}]
},
"layer":[
{"data":{"name":"levels"},"mark":{"type":"rule","color":"#b6b6b6","strokeWidth":2},
 "encoding":{
  "y":{"field":"level","type":"quantitative","scale":{"domain":[0.915,6.793],"nice":false,"zero":false},
   "axis":{"orient":"right","offset":-118,"title":null,"values":[1.5,2,2.5,3,3.5,4,4.5,5,5.5,6,6.5],"format":".4f","grid":false,"ticks":false,"domainColor":"#000000","domainWidth":2,"labelColor":"#222222","labelFont":"DejaVu Sans","labelFontSize":22,"labelPadding":17,"zindex":0}},
  "x":{"datum":{"year":2021,"month":10,"date":22,"utc":true},"type":"temporal","scale":{"type":"utc","domain":[{"year":2021,"month":10,"date":22,"utc":true},{"year":2026,"month":4,"date":16,"utc":true}]}},
  "x2":{"datum":{"year":2026,"month":2,"date":24,"utc":true}}}},
{"data":{"name":"months"},"mark":{"type":"rule","color":"#a8a8a8","strokeWidth":1.5},
 "encoding":{
  "x":{"field":"t","type":"temporal",
   "axis":{"orient":"bottom","offset":-54,"title":null,
    "values":[{"year":2022,"month":1,"date":1,"utc":true},{"year":2022,"month":4,"date":1,"utc":true},{"year":2022,"month":7,"date":1,"utc":true},{"year":2022,"month":10,"date":1,"utc":true},{"year":2023,"month":1,"date":1,"utc":true},{"year":2023,"month":4,"date":1,"utc":true},{"year":2023,"month":7,"date":1,"utc":true},{"year":2023,"month":10,"date":1,"utc":true},{"year":2024,"month":1,"date":1,"utc":true},{"year":2024,"month":4,"date":1,"utc":true},{"year":2024,"month":7,"date":1,"utc":true},{"year":2024,"month":10,"date":1,"utc":true},{"year":2025,"month":1,"date":1,"utc":true},{"year":2025,"month":4,"date":1,"utc":true},{"year":2025,"month":7,"date":1,"utc":true},{"year":2025,"month":10,"date":1,"utc":true},{"year":2026,"month":1,"date":1,"utc":true}],
    "labelExpr":"utcmonth(datum.value)==0 ? utcFormat(datum.value,'%Y') : utcFormat(datum.value,'%b')",
    "labelFontWeight":{"condition":{"test":"utcmonth(datum.value)==0","value":"bold"},"value":"normal"},
    "grid":false,"ticks":false,"domainColor":"#000000","domainWidth":2,"labelColor":"#222222","labelFont":"DejaVu Sans","labelFontSize":22,"labelPadding":16,"labelAngle":0,"zindex":0}},
  "y":{"datum":1.103,"type":"quantitative"},
  "y2":{"datum":6.793}}},
{"data":{"name":"y5"},"mark":{"type":"line","color":"#2f6bff","strokeWidth":3.8},
 "encoding":{"x":{"field":"t","type":"temporal"},"y":{"field":"v","type":"quantitative"}}},
{"data":{"name":"y2"},"mark":{"type":"line","color":"#ffc400","strokeWidth":3.8},
 "encoding":{"x":{"field":"t","type":"temporal"},"y":{"field":"v","type":"quantitative"}}},
{"data":{"name":"y1"},"mark":{"type":"line","color":"#000000","strokeWidth":3.8},
 "encoding":{"x":{"field":"t","type":"temporal"},"y":{"field":"v","type":"quantitative"}}},
{"data":{"name":"header"},"mark":{"type":"text","align":"left","baseline":"middle","font":"Liberation Sans","fontSize":26},
 "encoding":{"x":{"field":"t","type":"temporal"},"y":{"datum":6.681,"type":"quantitative"},"text":{"field":"text"},
  "color":{"field":"series","type":"nominal","legend":null,"scale":{"domain":["1Y","name","2Y","5Y"],"range":["#000000","#000000","#ffc400","#2f6bff"]}}}},
{"data":{"name":"tags"},"mark":{"type":"rect","cornerRadius":3},
 "encoding":{"x":{"datum":{"year":2026,"month":2,"date":25,"utc":true},"type":"temporal"},"x2":{"datum":{"year":2026,"month":4,"date":12,"utc":true}},
  "y":{"field":"hi","type":"quantitative"},"y2":{"field":"lo"},
  "color":{"field":"series","type":"nominal","legend":null}}},
{"data":{"name":"tags"},"mark":{"type":"text","align":"left","baseline":"middle","font":"DejaVu Sans","fontSize":22},
 "encoding":{"x":{"datum":{"year":2026,"month":3,"date":3,"utc":true},"type":"temporal"},
  "y":{"field":"mid","type":"quantitative"},"text":{"field":"label"},
  "color":{"condition":{"test":"datum.series=='2Y'","value":"#000000"},"value":"#ffffff"}}},
{"mark":{"type":"rect","color":"#1e2230"},"data":{"values":[{"band":"footer"}]},
 "encoding":{"x":{"datum":{"year":2021,"month":10,"date":13,"utc":true},"type":"temporal"},"x2":{"datum":{"year":2026,"month":4,"date":25,"utc":true}},
  "y":{"datum":0.845,"type":"quantitative"},"y2":{"datum":0.702}}},
{"mark":{"type":"point","filled":true,"color":"#ffffff","opacity":1,"strokeWidth":0,"size":3136,"shape":"M-1,-0.6 L-0.7,-0.7 L-0.45,-0.5 L-0.35,-0.2 L-0.4,0.1 L-0.6,0.3 L-0.9,0.2 L-0.75,0 L-0.95,-0.2 Z M1,-0.6 L0.7,-0.7 L0.45,-0.5 L0.35,-0.2 L0.4,0.1 L0.6,0.3 L0.9,0.2 L0.75,0 L0.95,-0.2 Z M-0.3,-0.45 L0.3,-0.45 L0.3,0.2 L0,0.5 L-0.3,0.2 Z M-0.7,0.5 L0.7,0.5 L0.6,0.7 L-0.6,0.7 Z"},"data":{"values":[{"band":"logo"}]},
 "encoding":{"x":{"datum":{"year":2026,"month":2,"date":24,"utc":true},"type":"temporal"},"y":{"datum":0.775,"type":"quantitative"}}},
{"mark":{"type":"text","align":"left","baseline":"middle","font":"Liberation Sans","fontWeight":"bold","fontSize":29,"color":"#ffffff"},"data":{"values":[{"text":"LSEG"}]},
 "encoding":{"x":{"datum":{"year":2026,"month":3,"date":13,"utc":true},"type":"temporal"},"y":{"datum":0.775,"type":"quantitative"},"text":{"field":"text"}}}
]
}
